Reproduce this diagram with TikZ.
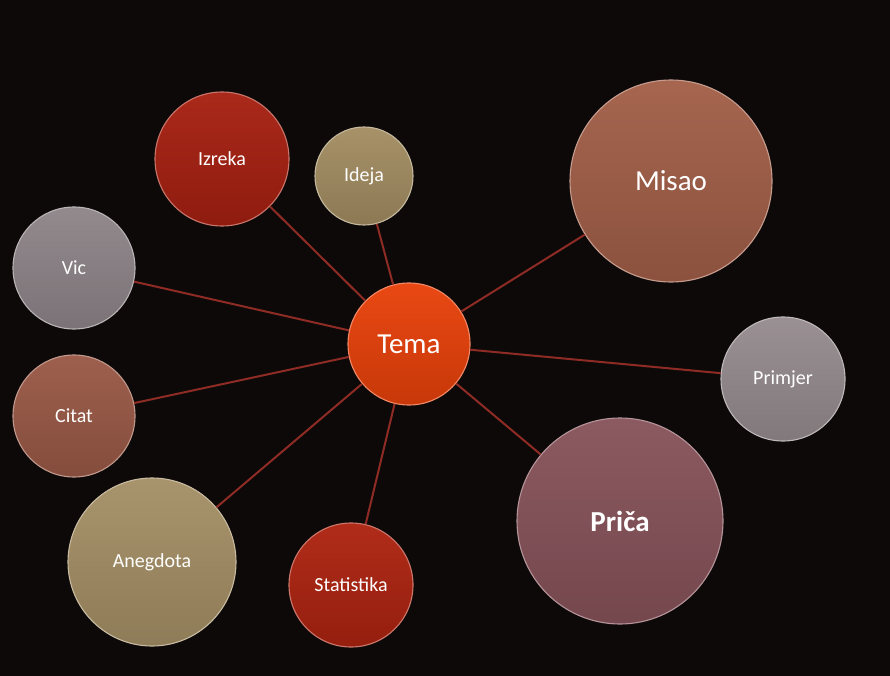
\documentclass[tikz,border=0pt]{standalone}
\usepackage{fontspec}
\setmainfont{Carlito}
\usepackage{tikz}

\definecolor{bgdark}{HTML}{0D0908}
\definecolor{spokecol}{HTML}{8E2B24}
\definecolor{temacol}{HTML}{E8410A}
\definecolor{izrekacol}{HTML}{A62011}
\definecolor{idejacol}{HTML}{A38D62}
\definecolor{misaocol}{HTML}{A25F48}
\definecolor{viccol}{HTML}{8E8589}
\definecolor{citatcol}{HTML}{9A5946}
\definecolor{pricacol}{HTML}{87535A}
\definecolor{anegdotacol}{HTML}{A59066}
\definecolor{statcol}{HTML}{AD2310}
\definecolor{primjercol}{HTML}{968C90}

\tikzset{
	bubble/.style={circle, inner sep=0pt, text=white, line width=1.1pt,
		top color=#1!96!white, bottom color=#1!86!black, draw=#1!62!white},
	small/.style={font=\fontsize{20}{24}\selectfont},
	big/.style={font=\fontsize{29}{34}\selectfont},
	spoke/.style={draw=spokecol, line width=2pt},
}

\begin{document}
\begin{tikzpicture}[x=1pt,y=-1pt]
	\fill[bgdark] (0,0) rectangle (890,676);

	% Nodes start here
	\node (tema) at (409,344) [bubble=temacol,big,minimum size=122pt] {Tema};
	\node (izreka) at (222,159) [bubble=izrekacol,small,minimum size=134pt] {Izreka};
	\node (ideja) at (364,176) [bubble=idejacol,small,minimum size=98pt] {Ideja};
	\node (misao) at (671,181) [bubble=misaocol,big,minimum size=202pt] {Misao};
	\node (vic) at (74,268) [bubble=viccol,small,minimum size=122pt] {Vic};
	\node (citat) at (74,416) [bubble=citatcol,small,minimum size=122pt] {Citat};
	\node (primjer) at (783,379) [bubble=primjercol,small,minimum size=124pt] {Primjer};
	\node (prica) at (620,521) [bubble=pricacol,big,minimum size=206pt] {\bfseries Priča};
	\node (anegdota) at (152,562) [bubble=anegdotacol,small,minimum size=168pt] {Anegdota};
	\node (statistika) at (351,585) [bubble=statcol,small,minimum size=124pt] {Statistika};

	% Lines start here
	\draw[spoke] (tema) to (izreka);
	\draw[spoke] (tema) to (ideja);
	\draw[spoke] (tema) to (misao);
	\draw[spoke] (tema) to (vic);
	\draw[spoke] (tema) to (citat);
	\draw[spoke] (tema) to (primjer);
	\draw[spoke] (tema) to (prica);
	\draw[spoke] (tema) to (anegdota);
	\draw[spoke] (tema) to (statistika);

\end{tikzpicture}
\end{document}
